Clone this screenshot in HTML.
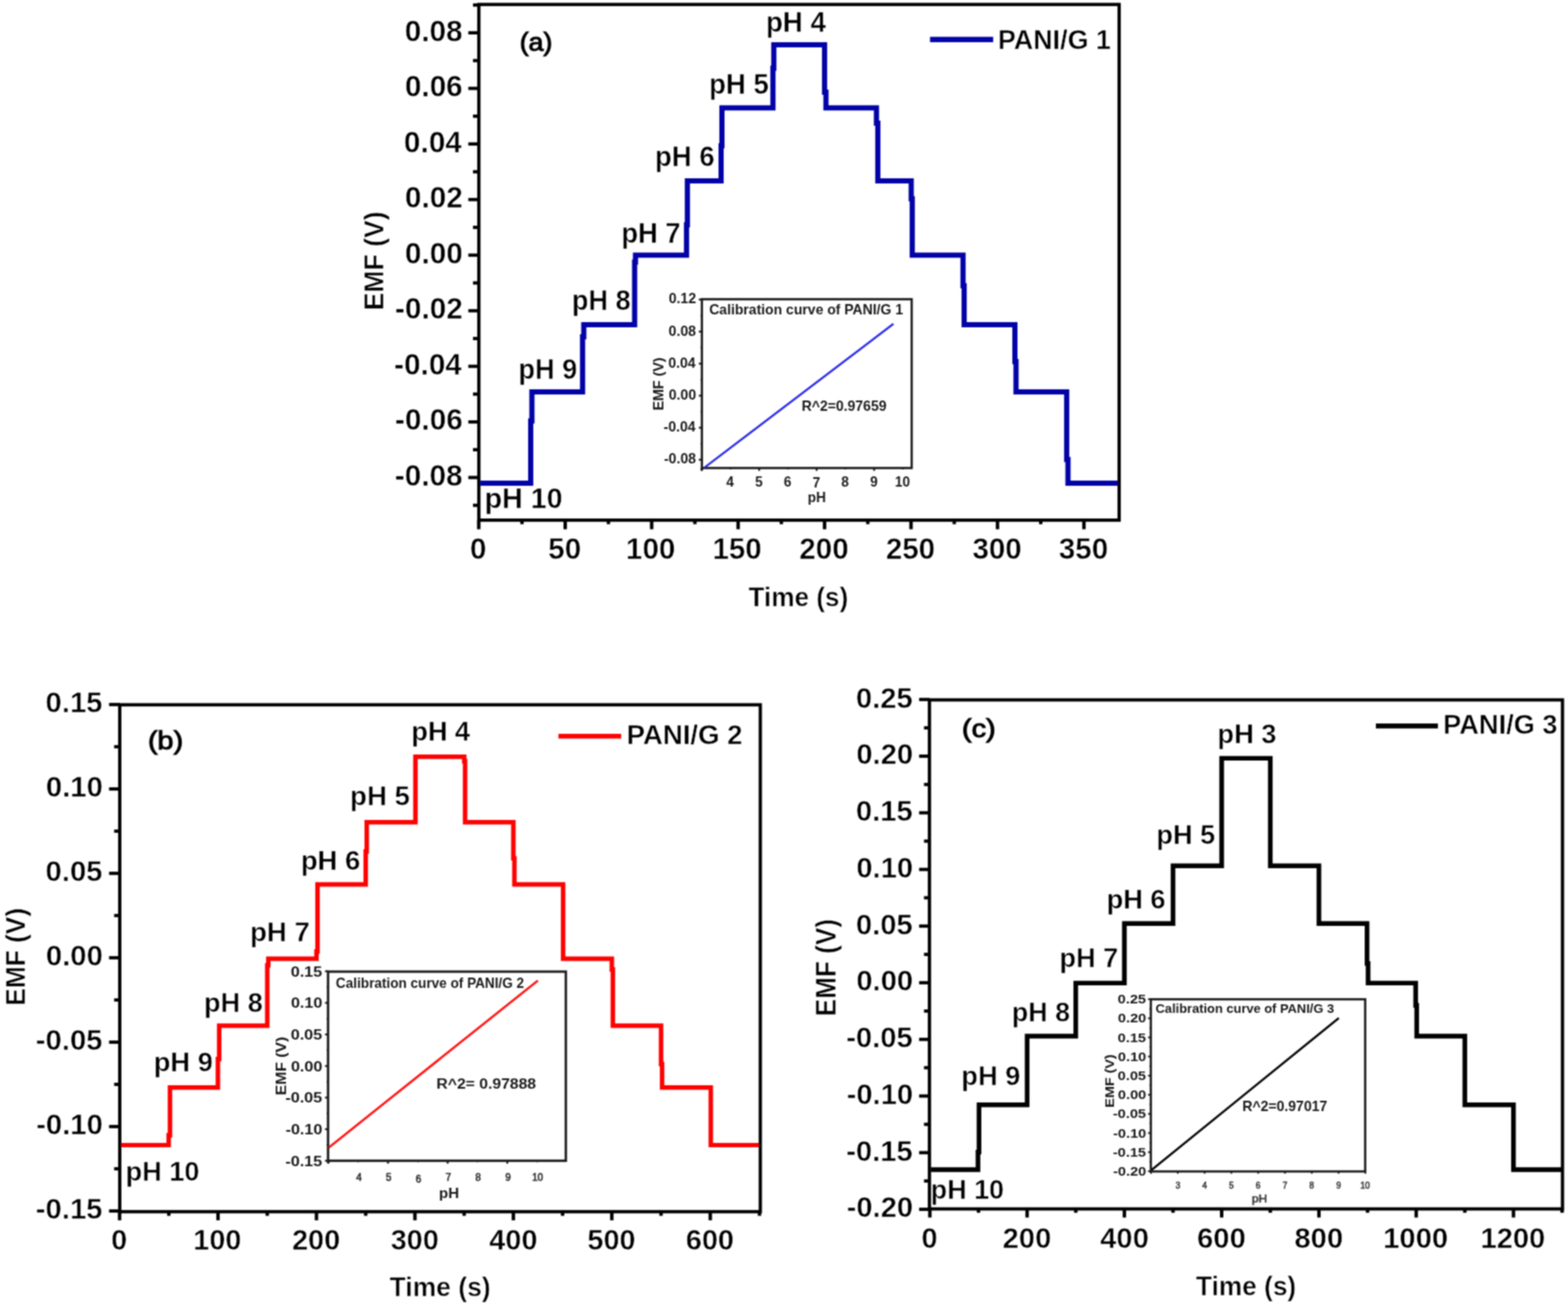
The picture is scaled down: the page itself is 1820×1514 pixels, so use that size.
<!DOCTYPE html>
<html><head><meta charset="utf-8"><title>EMF vs Time - PANI/G electrodes</title>
<style>
html,body{margin:0;padding:0;background:#fff;}
svg{display:block;}
text{font-family:"Liberation Sans",Arial,sans-serif;font-weight:bold;}
</style></head><body>
<svg width="1820" height="1514" viewBox="0 0 1820 1514">
<defs><filter id="soft" x="0" y="0" width="1820" height="1514" filterUnits="userSpaceOnUse" color-interpolation-filters="sRGB"><feConvolveMatrix order="3" kernelMatrix="1 2 1 2 4 2 1 2 1" edgeMode="duplicate"/></filter></defs>
<g filter="url(#soft)">
<rect width="1820" height="1514" fill="#fff"/>
<line x1="549.00" y1="586.68" x2="555.80" y2="586.68" stroke="#000" stroke-width="3.8" stroke-linecap="butt"/>
<line x1="543.60" y1="554.41" x2="555.80" y2="554.41" stroke="#000" stroke-width="3.8" stroke-linecap="butt"/>
<line x1="549.00" y1="522.14" x2="555.80" y2="522.14" stroke="#000" stroke-width="3.8" stroke-linecap="butt"/>
<line x1="543.60" y1="489.87" x2="555.80" y2="489.87" stroke="#000" stroke-width="3.8" stroke-linecap="butt"/>
<line x1="549.00" y1="457.60" x2="555.80" y2="457.60" stroke="#000" stroke-width="3.8" stroke-linecap="butt"/>
<line x1="543.60" y1="425.33" x2="555.80" y2="425.33" stroke="#000" stroke-width="3.8" stroke-linecap="butt"/>
<line x1="549.00" y1="393.06" x2="555.80" y2="393.06" stroke="#000" stroke-width="3.8" stroke-linecap="butt"/>
<line x1="543.60" y1="360.79" x2="555.80" y2="360.79" stroke="#000" stroke-width="3.8" stroke-linecap="butt"/>
<line x1="549.00" y1="328.52" x2="555.80" y2="328.52" stroke="#000" stroke-width="3.8" stroke-linecap="butt"/>
<line x1="543.60" y1="296.25" x2="555.80" y2="296.25" stroke="#000" stroke-width="3.8" stroke-linecap="butt"/>
<line x1="549.00" y1="263.98" x2="555.80" y2="263.98" stroke="#000" stroke-width="3.8" stroke-linecap="butt"/>
<line x1="543.60" y1="231.71" x2="555.80" y2="231.71" stroke="#000" stroke-width="3.8" stroke-linecap="butt"/>
<line x1="549.00" y1="199.44" x2="555.80" y2="199.44" stroke="#000" stroke-width="3.8" stroke-linecap="butt"/>
<line x1="543.60" y1="167.17" x2="555.80" y2="167.17" stroke="#000" stroke-width="3.8" stroke-linecap="butt"/>
<line x1="549.00" y1="134.90" x2="555.80" y2="134.90" stroke="#000" stroke-width="3.8" stroke-linecap="butt"/>
<line x1="543.60" y1="102.63" x2="555.80" y2="102.63" stroke="#000" stroke-width="3.8" stroke-linecap="butt"/>
<line x1="549.00" y1="70.36" x2="555.80" y2="70.36" stroke="#000" stroke-width="3.8" stroke-linecap="butt"/>
<line x1="543.60" y1="38.09" x2="555.80" y2="38.09" stroke="#000" stroke-width="3.8" stroke-linecap="butt"/>
<line x1="549.00" y1="5.82" x2="555.80" y2="5.82" stroke="#000" stroke-width="3.8" stroke-linecap="butt"/>
<line x1="555.70" y1="603.90" x2="555.70" y2="614.50" stroke="#000" stroke-width="4.0" stroke-linecap="butt"/>
<line x1="605.88" y1="603.90" x2="605.88" y2="608.60" stroke="#000" stroke-width="4.0" stroke-linecap="butt"/>
<line x1="656.05" y1="603.90" x2="656.05" y2="614.50" stroke="#000" stroke-width="4.0" stroke-linecap="butt"/>
<line x1="706.23" y1="603.90" x2="706.23" y2="608.60" stroke="#000" stroke-width="4.0" stroke-linecap="butt"/>
<line x1="756.40" y1="603.90" x2="756.40" y2="614.50" stroke="#000" stroke-width="4.0" stroke-linecap="butt"/>
<line x1="806.58" y1="603.90" x2="806.58" y2="608.60" stroke="#000" stroke-width="4.0" stroke-linecap="butt"/>
<line x1="856.75" y1="603.90" x2="856.75" y2="614.50" stroke="#000" stroke-width="4.0" stroke-linecap="butt"/>
<line x1="906.93" y1="603.90" x2="906.93" y2="608.60" stroke="#000" stroke-width="4.0" stroke-linecap="butt"/>
<line x1="957.10" y1="603.90" x2="957.10" y2="614.50" stroke="#000" stroke-width="4.0" stroke-linecap="butt"/>
<line x1="1007.28" y1="603.90" x2="1007.28" y2="608.60" stroke="#000" stroke-width="4.0" stroke-linecap="butt"/>
<line x1="1057.45" y1="603.90" x2="1057.45" y2="614.50" stroke="#000" stroke-width="4.0" stroke-linecap="butt"/>
<line x1="1107.62" y1="603.90" x2="1107.62" y2="608.60" stroke="#000" stroke-width="4.0" stroke-linecap="butt"/>
<line x1="1157.80" y1="603.90" x2="1157.80" y2="614.50" stroke="#000" stroke-width="4.0" stroke-linecap="butt"/>
<line x1="1207.98" y1="603.90" x2="1207.98" y2="608.60" stroke="#000" stroke-width="4.0" stroke-linecap="butt"/>
<line x1="1258.15" y1="603.90" x2="1258.15" y2="614.50" stroke="#000" stroke-width="4.0" stroke-linecap="butt"/>
<rect x="555.80" y="5.20" width="743.20" height="598.70" fill="none" stroke="#000" stroke-width="3.8"/>
<text transform="translate(458.26,564.01) scale(1.0000,1)" font-size="34.50" fill="#000" stroke="#fff" stroke-width="0.5">-0.08</text>
<text transform="translate(458.43,499.47) scale(1.0000,1)" font-size="34.50" fill="#000" stroke="#fff" stroke-width="0.5">-0.06</text>
<text transform="translate(457.40,434.93) scale(1.0000,1)" font-size="34.50" fill="#000" stroke="#fff" stroke-width="0.5">-0.04</text>
<text transform="translate(458.61,370.39) scale(1.0000,1)" font-size="34.50" fill="#000" stroke="#fff" stroke-width="0.5">-0.02</text>
<text transform="translate(470.08,305.85) scale(1.0000,1)" font-size="34.50" fill="#000" stroke="#fff" stroke-width="0.5">0.00</text>
<text transform="translate(470.08,241.31) scale(1.0000,1)" font-size="34.50" fill="#000" stroke="#fff" stroke-width="0.5">0.02</text>
<text transform="translate(468.87,176.77) scale(1.0000,1)" font-size="34.50" fill="#000" stroke="#fff" stroke-width="0.5">0.04</text>
<text transform="translate(469.90,112.23) scale(1.0000,1)" font-size="34.50" fill="#000" stroke="#fff" stroke-width="0.5">0.06</text>
<text transform="translate(469.73,47.69) scale(1.0000,1)" font-size="34.50" fill="#000" stroke="#fff" stroke-width="0.5">0.08</text>
<text transform="translate(545.38,648.50) scale(1.0000,1)" font-size="34.30" fill="#000" stroke="#fff" stroke-width="0.5">0</text>
<text transform="translate(636.34,648.50) scale(1.0000,1)" font-size="34.30" fill="#000" stroke="#fff" stroke-width="0.5">50</text>
<text transform="translate(726.62,648.50) scale(1.0000,1)" font-size="34.30" fill="#000" stroke="#fff" stroke-width="0.5">100</text>
<text transform="translate(826.97,648.50) scale(1.0000,1)" font-size="34.30" fill="#000" stroke="#fff" stroke-width="0.5">150</text>
<text transform="translate(927.79,648.50) scale(1.0000,1)" font-size="34.30" fill="#000" stroke="#fff" stroke-width="0.5">200</text>
<text transform="translate(1028.14,648.50) scale(1.0000,1)" font-size="34.30" fill="#000" stroke="#fff" stroke-width="0.5">250</text>
<text transform="translate(1128.70,648.50) scale(1.0000,1)" font-size="34.30" fill="#000" stroke="#fff" stroke-width="0.5">300</text>
<text transform="translate(1229.05,648.50) scale(1.0000,1)" font-size="34.30" fill="#000" stroke="#fff" stroke-width="0.5">350</text>
<path d="M557.30,561.00 L616.01,561.00 L616.01,488.85 L617.41,488.85 L617.41,454.90 L676.22,454.90 L676.22,391.02 L677.62,391.02 L677.62,377.00 L736.63,377.00 L736.63,304.37 L737.63,304.37 L737.63,296.30 L796.84,296.30 L796.84,260.88 L797.84,260.88 L797.84,209.90 L836.98,209.90 L836.98,169.29 L837.98,169.29 L837.98,125.30 L897.19,125.30 L897.19,79.18 L898.19,79.18 L898.19,52.10 L957.10,52.10 L957.10,107.00 L958.70,107.00 L958.70,125.30 L1017.31,125.30 L1017.31,143.07 L1018.91,143.07 L1018.91,209.90 L1057.65,209.90 L1057.65,230.64 L1058.85,230.64 L1058.85,296.30 L1117.81,296.30 L1117.81,331.81 L1119.11,331.81 L1119.11,377.00 L1178.02,377.00 L1178.02,419.84 L1179.32,419.84 L1179.32,454.90 L1238.13,454.90 L1238.13,533.41 L1239.63,533.41 L1239.63,561.00 L1297.50,561.00" fill="none" stroke="#0202A8" stroke-width="6" stroke-linejoin="miter" stroke-linecap="butt"/>
<text transform="translate(888.90,37.40) scale(0.9928,1)" font-size="32.50" fill="#000" stroke="#fff" stroke-width="0.5">pH 4</text>
<text transform="translate(822.91,108.50) scale(0.9873,1)" font-size="32.50" fill="#000" stroke="#fff" stroke-width="0.5">pH 5</text>
<text transform="translate(760.33,193.00) scale(0.9819,1)" font-size="32.50" fill="#000" stroke="#fff" stroke-width="0.5">pH 6</text>
<text transform="translate(721.14,281.60) scale(0.9765,1)" font-size="32.50" fill="#000" stroke="#fff" stroke-width="0.5">pH 7</text>
<text transform="translate(663.75,359.80) scale(0.9692,1)" font-size="32.50" fill="#000" stroke="#fff" stroke-width="0.5">pH 8</text>
<text transform="translate(601.85,440.20) scale(0.9700,1)" font-size="32.50" fill="#000" stroke="#fff" stroke-width="0.5">pH 9</text>
<text transform="translate(562.44,589.90) scale(0.9922,1)" font-size="33.50" fill="#000" stroke="#fff" stroke-width="0.5">pH 10</text>
<text transform="translate(603.21,59.40) scale(1.0714,1)" font-size="29.00" fill="#000" style="font-weight:normal" stroke="#000" stroke-width="1.1">(a)</text>
<line x1="1079.50" y1="45.90" x2="1152.80" y2="45.90" stroke="#0202A8" stroke-width="6.2" stroke-linecap="butt"/>
<text transform="translate(1158.29,56.60) scale(0.9753,1)" font-size="32.00" fill="#000" stroke="#fff" stroke-width="0.5">PANI/G 1</text>
<text transform="translate(868.82,704.20) scale(0.9567,1)" font-size="31.70" fill="#000" stroke="#fff" stroke-width="0.5">Time (s)</text>
<text transform="translate(445.10,360.18) rotate(-90) scale(0.9782,1)" font-size="31.50" fill="#000" stroke="#fff" stroke-width="0.5">EMF (V)</text>
<line x1="811.20" y1="533.80" x2="814.70" y2="533.80" stroke="#1a1a1a" stroke-width="2.2" stroke-linecap="butt"/>
<line x1="813.20" y1="515.20" x2="814.70" y2="515.20" stroke="#1a1a1a" stroke-width="1.5" stroke-linecap="butt"/>
<line x1="811.20" y1="496.60" x2="814.70" y2="496.60" stroke="#1a1a1a" stroke-width="2.2" stroke-linecap="butt"/>
<line x1="813.20" y1="478.00" x2="814.70" y2="478.00" stroke="#1a1a1a" stroke-width="1.5" stroke-linecap="butt"/>
<line x1="811.20" y1="459.40" x2="814.70" y2="459.40" stroke="#1a1a1a" stroke-width="2.2" stroke-linecap="butt"/>
<line x1="813.20" y1="440.80" x2="814.70" y2="440.80" stroke="#1a1a1a" stroke-width="1.5" stroke-linecap="butt"/>
<line x1="811.20" y1="422.20" x2="814.70" y2="422.20" stroke="#1a1a1a" stroke-width="2.2" stroke-linecap="butt"/>
<line x1="813.20" y1="403.60" x2="814.70" y2="403.60" stroke="#1a1a1a" stroke-width="1.5" stroke-linecap="butt"/>
<line x1="811.20" y1="385.00" x2="814.70" y2="385.00" stroke="#1a1a1a" stroke-width="2.2" stroke-linecap="butt"/>
<line x1="813.20" y1="366.40" x2="814.70" y2="366.40" stroke="#1a1a1a" stroke-width="1.5" stroke-linecap="butt"/>
<line x1="811.20" y1="347.80" x2="814.70" y2="347.80" stroke="#1a1a1a" stroke-width="2.2" stroke-linecap="butt"/>
<line x1="814.43" y1="543.40" x2="814.43" y2="546.60" stroke="#1a1a1a" stroke-width="2.2" stroke-linecap="butt"/>
<line x1="847.80" y1="543.40" x2="847.80" y2="545.00" stroke="#1a1a1a" stroke-width="2.0" stroke-linecap="butt"/>
<line x1="881.17" y1="543.40" x2="881.17" y2="546.60" stroke="#1a1a1a" stroke-width="2.2" stroke-linecap="butt"/>
<line x1="914.54" y1="543.40" x2="914.54" y2="545.00" stroke="#1a1a1a" stroke-width="2.0" stroke-linecap="butt"/>
<line x1="947.91" y1="543.40" x2="947.91" y2="546.60" stroke="#1a1a1a" stroke-width="2.2" stroke-linecap="butt"/>
<line x1="981.28" y1="543.40" x2="981.28" y2="545.00" stroke="#1a1a1a" stroke-width="2.0" stroke-linecap="butt"/>
<line x1="1014.65" y1="543.40" x2="1014.65" y2="546.60" stroke="#1a1a1a" stroke-width="2.2" stroke-linecap="butt"/>
<line x1="1048.02" y1="543.40" x2="1048.02" y2="545.00" stroke="#1a1a1a" stroke-width="2.0" stroke-linecap="butt"/>
<line x1="814.70" y1="543.40" x2="814.70" y2="546.40" stroke="#1a1a1a" stroke-width="2.6" stroke-linecap="butt"/>
<rect x="814.70" y="347.40" width="243.50" height="196.00" fill="none" stroke="#1a1a1a" stroke-width="2.6"/>
<text transform="translate(776.25,352.40) scale(1.0000,1)" font-size="16.30" fill="#1a1a1a">0.12</text>
<text transform="translate(776.09,389.60) scale(1.0000,1)" font-size="16.30" fill="#1a1a1a">0.08</text>
<text transform="translate(775.68,426.80) scale(1.0000,1)" font-size="16.30" fill="#1a1a1a">0.04</text>
<text transform="translate(776.25,464.00) scale(1.0000,1)" font-size="16.30" fill="#1a1a1a">0.00</text>
<text transform="translate(770.26,501.20) scale(1.0000,1)" font-size="16.30" fill="#1a1a1a">-0.04</text>
<text transform="translate(770.67,538.40) scale(1.0000,1)" font-size="16.30" fill="#1a1a1a">-0.08</text>
<text transform="translate(843.04,564.80) scale(1.0000,1)" font-size="15.80" fill="#1a1a1a">4</text>
<text transform="translate(876.45,564.80) scale(1.0000,1)" font-size="15.80" fill="#1a1a1a">5</text>
<text transform="translate(909.84,564.80) scale(1.0000,1)" font-size="15.80" fill="#1a1a1a">6</text>
<text transform="translate(943.23,566.00) scale(1.0000,1)" font-size="15.80" fill="#1a1a1a">7</text>
<text transform="translate(976.58,564.80) scale(1.0000,1)" font-size="15.80" fill="#1a1a1a">8</text>
<text transform="translate(1009.97,564.80) scale(1.0000,1)" font-size="15.80" fill="#1a1a1a">9</text>
<text transform="translate(1038.77,564.80) scale(1.0000,1)" font-size="15.80" fill="#1a1a1a">10</text>
<text transform="translate(937.47,582.70) scale(1.0021,1)" font-size="15.80" fill="#1a1a1a">pH</text>
<text transform="translate(770.00,476.62) rotate(-90) scale(1.0167,1)" font-size="16.30" fill="#1a1a1a">EMF (V)</text>
<text transform="translate(823.15,365.40) scale(0.9963,1)" font-size="16.30" fill="#1a1a1a">Calibration curve of PANI/G 1</text>
<text transform="translate(930.40,476.80) scale(0.9868,1)" font-size="16.50" fill="#1a1a1a">R^2=0.97659</text>
<line x1="817.70" y1="542.90" x2="1037.00" y2="376.00" stroke="#2626E6" stroke-width="2.4" stroke-linecap="butt"/>
<line x1="126.60" y1="1406.00" x2="139.00" y2="1406.00" stroke="#000" stroke-width="3.8" stroke-linecap="butt"/>
<line x1="132.50" y1="1357.00" x2="139.00" y2="1357.00" stroke="#000" stroke-width="3.8" stroke-linecap="butt"/>
<line x1="126.60" y1="1308.00" x2="139.00" y2="1308.00" stroke="#000" stroke-width="3.8" stroke-linecap="butt"/>
<line x1="132.50" y1="1259.00" x2="139.00" y2="1259.00" stroke="#000" stroke-width="3.8" stroke-linecap="butt"/>
<line x1="126.60" y1="1210.00" x2="139.00" y2="1210.00" stroke="#000" stroke-width="3.8" stroke-linecap="butt"/>
<line x1="132.50" y1="1161.00" x2="139.00" y2="1161.00" stroke="#000" stroke-width="3.8" stroke-linecap="butt"/>
<line x1="126.60" y1="1112.00" x2="139.00" y2="1112.00" stroke="#000" stroke-width="3.8" stroke-linecap="butt"/>
<line x1="132.50" y1="1063.00" x2="139.00" y2="1063.00" stroke="#000" stroke-width="3.8" stroke-linecap="butt"/>
<line x1="126.60" y1="1014.00" x2="139.00" y2="1014.00" stroke="#000" stroke-width="3.8" stroke-linecap="butt"/>
<line x1="132.50" y1="965.00" x2="139.00" y2="965.00" stroke="#000" stroke-width="3.8" stroke-linecap="butt"/>
<line x1="126.60" y1="916.00" x2="139.00" y2="916.00" stroke="#000" stroke-width="3.8" stroke-linecap="butt"/>
<line x1="132.50" y1="867.00" x2="139.00" y2="867.00" stroke="#000" stroke-width="3.8" stroke-linecap="butt"/>
<line x1="126.60" y1="818.00" x2="139.00" y2="818.00" stroke="#000" stroke-width="3.8" stroke-linecap="butt"/>
<line x1="138.80" y1="1406.80" x2="138.80" y2="1416.80" stroke="#000" stroke-width="4.0" stroke-linecap="butt"/>
<line x1="195.94" y1="1406.80" x2="195.94" y2="1411.60" stroke="#000" stroke-width="4.0" stroke-linecap="butt"/>
<line x1="253.07" y1="1406.80" x2="253.07" y2="1416.80" stroke="#000" stroke-width="4.0" stroke-linecap="butt"/>
<line x1="310.21" y1="1406.80" x2="310.21" y2="1411.60" stroke="#000" stroke-width="4.0" stroke-linecap="butt"/>
<line x1="367.34" y1="1406.80" x2="367.34" y2="1416.80" stroke="#000" stroke-width="4.0" stroke-linecap="butt"/>
<line x1="424.48" y1="1406.80" x2="424.48" y2="1411.60" stroke="#000" stroke-width="4.0" stroke-linecap="butt"/>
<line x1="481.61" y1="1406.80" x2="481.61" y2="1416.80" stroke="#000" stroke-width="4.0" stroke-linecap="butt"/>
<line x1="538.75" y1="1406.80" x2="538.75" y2="1411.60" stroke="#000" stroke-width="4.0" stroke-linecap="butt"/>
<line x1="595.88" y1="1406.80" x2="595.88" y2="1416.80" stroke="#000" stroke-width="4.0" stroke-linecap="butt"/>
<line x1="653.02" y1="1406.80" x2="653.02" y2="1411.60" stroke="#000" stroke-width="4.0" stroke-linecap="butt"/>
<line x1="710.15" y1="1406.80" x2="710.15" y2="1416.80" stroke="#000" stroke-width="4.0" stroke-linecap="butt"/>
<line x1="767.29" y1="1406.80" x2="767.29" y2="1411.60" stroke="#000" stroke-width="4.0" stroke-linecap="butt"/>
<line x1="824.42" y1="1406.80" x2="824.42" y2="1416.80" stroke="#000" stroke-width="4.0" stroke-linecap="butt"/>
<line x1="881.56" y1="1406.80" x2="881.56" y2="1411.60" stroke="#000" stroke-width="4.0" stroke-linecap="butt"/>
<rect x="139.00" y="818.30" width="743.50" height="588.50" fill="none" stroke="#000" stroke-width="3.8"/>
<text transform="translate(41.50,1415.30) scale(1.0000,1)" font-size="34.00" fill="#000" stroke="#fff" stroke-width="0.5">-0.15</text>
<text transform="translate(41.93,1317.30) scale(1.0000,1)" font-size="34.00" fill="#000" stroke="#fff" stroke-width="0.5">-0.10</text>
<text transform="translate(41.50,1219.30) scale(1.0000,1)" font-size="34.00" fill="#000" stroke="#fff" stroke-width="0.5">-0.05</text>
<text transform="translate(53.23,1121.30) scale(1.0000,1)" font-size="34.00" fill="#000" stroke="#fff" stroke-width="0.5">0.00</text>
<text transform="translate(52.80,1023.30) scale(1.0000,1)" font-size="34.00" fill="#000" stroke="#fff" stroke-width="0.5">0.05</text>
<text transform="translate(53.23,925.30) scale(1.0000,1)" font-size="34.00" fill="#000" stroke="#fff" stroke-width="0.5">0.10</text>
<text transform="translate(52.80,827.30) scale(1.0000,1)" font-size="34.00" fill="#000" stroke="#fff" stroke-width="0.5">0.15</text>
<text transform="translate(129.00,1451.00) scale(1.0000,1)" font-size="33.50" fill="#000" stroke="#fff" stroke-width="0.5">0</text>
<text transform="translate(224.26,1451.00) scale(1.0000,1)" font-size="33.50" fill="#000" stroke="#fff" stroke-width="0.5">100</text>
<text transform="translate(338.99,1451.00) scale(1.0000,1)" font-size="33.50" fill="#000" stroke="#fff" stroke-width="0.5">200</text>
<text transform="translate(453.47,1451.00) scale(1.0000,1)" font-size="33.50" fill="#000" stroke="#fff" stroke-width="0.5">300</text>
<text transform="translate(567.87,1451.00) scale(1.0000,1)" font-size="33.50" fill="#000" stroke="#fff" stroke-width="0.5">400</text>
<text transform="translate(681.85,1451.00) scale(1.0000,1)" font-size="33.50" fill="#000" stroke="#fff" stroke-width="0.5">500</text>
<text transform="translate(796.03,1451.00) scale(1.0000,1)" font-size="33.50" fill="#000" stroke="#fff" stroke-width="0.5">600</text>
<path d="M140.50,1329.50 L195.78,1329.50 L195.78,1318.13 L197.28,1318.13 L197.28,1262.60 L252.92,1262.60 L252.92,1229.62 L254.42,1229.62 L254.42,1190.90 L310.21,1190.90 L310.21,1120.97 L311.41,1120.97 L311.41,1113.20 L367.34,1113.20 L367.34,1104.56 L368.54,1104.56 L368.54,1026.80 L424.48,1026.80 L424.48,988.59 L425.68,988.59 L425.68,954.70 L482.21,954.70 L482.21,878.60 L538.85,878.60 L538.85,883.93 L539.85,883.93 L539.85,954.70 L595.88,954.70 L595.88,996.52 L597.08,996.52 L597.08,1026.80 L653.62,1026.80 L653.62,1113.20 L710.15,1113.20 L710.15,1125.63 L711.35,1125.63 L711.35,1190.90 L767.29,1190.90 L767.29,1235.35 L768.49,1235.35 L768.49,1262.60 L825.02,1262.60 L825.02,1329.50 L881.00,1329.50" fill="none" stroke="#FF0000" stroke-width="5.2" stroke-linejoin="miter" stroke-linecap="butt"/>
<text transform="translate(477.56,859.90) scale(0.9815,1)" font-size="32.00" fill="#000" stroke="#fff" stroke-width="0.5">pH 4</text>
<text transform="translate(406.32,935.40) scale(1.0012,1)" font-size="32.00" fill="#000" stroke="#fff" stroke-width="0.5">pH 5</text>
<text transform="translate(349.13,1010.30) scale(0.9973,1)" font-size="32.00" fill="#000" stroke="#fff" stroke-width="0.5">pH 6</text>
<text transform="translate(290.22,1093.00) scale(1.0009,1)" font-size="32.00" fill="#000" stroke="#fff" stroke-width="0.5">pH 7</text>
<text transform="translate(236.75,1174.70) scale(0.9873,1)" font-size="32.00" fill="#000" stroke="#fff" stroke-width="0.5">pH 8</text>
<text transform="translate(178.44,1244.00) scale(0.9897,1)" font-size="32.00" fill="#000" stroke="#fff" stroke-width="0.5">pH 9</text>
<text transform="translate(145.85,1370.80) scale(0.9994,1)" font-size="31.50" fill="#000" stroke="#fff" stroke-width="0.5">pH 10</text>
<text transform="translate(171.66,869.80) scale(1.1184,1)" font-size="29.90" fill="#000" style="font-weight:normal" stroke="#000" stroke-width="1.1">(b)</text>
<line x1="648.20" y1="854.70" x2="721.00" y2="854.70" stroke="#FF0000" stroke-width="5.5" stroke-linecap="butt"/>
<text transform="translate(727.14,863.70) scale(1.0335,1)" font-size="31.00" fill="#000" stroke="#fff" stroke-width="0.5">PANI/G 2</text>
<text transform="translate(452.32,1505.30) scale(0.9715,1)" font-size="31.60" fill="#000" stroke="#fff" stroke-width="0.5">Time (s)</text>
<text transform="translate(28.50,1167.66) rotate(-90) scale(0.9685,1)" font-size="31.50" fill="#000" stroke="#fff" stroke-width="0.5">EMF (V)</text>
<line x1="377.30" y1="1347.70" x2="380.80" y2="1347.70" stroke="#1a1a1a" stroke-width="2.2" stroke-linecap="butt"/>
<line x1="379.30" y1="1329.36" x2="380.80" y2="1329.36" stroke="#1a1a1a" stroke-width="1.5" stroke-linecap="butt"/>
<line x1="377.30" y1="1311.03" x2="380.80" y2="1311.03" stroke="#1a1a1a" stroke-width="2.2" stroke-linecap="butt"/>
<line x1="379.30" y1="1292.70" x2="380.80" y2="1292.70" stroke="#1a1a1a" stroke-width="1.5" stroke-linecap="butt"/>
<line x1="377.30" y1="1274.37" x2="380.80" y2="1274.37" stroke="#1a1a1a" stroke-width="2.2" stroke-linecap="butt"/>
<line x1="379.30" y1="1256.03" x2="380.80" y2="1256.03" stroke="#1a1a1a" stroke-width="1.5" stroke-linecap="butt"/>
<line x1="377.30" y1="1237.70" x2="380.80" y2="1237.70" stroke="#1a1a1a" stroke-width="2.2" stroke-linecap="butt"/>
<line x1="379.30" y1="1219.37" x2="380.80" y2="1219.37" stroke="#1a1a1a" stroke-width="1.5" stroke-linecap="butt"/>
<line x1="377.30" y1="1201.04" x2="380.80" y2="1201.04" stroke="#1a1a1a" stroke-width="2.2" stroke-linecap="butt"/>
<line x1="379.30" y1="1182.70" x2="380.80" y2="1182.70" stroke="#1a1a1a" stroke-width="1.5" stroke-linecap="butt"/>
<line x1="377.30" y1="1164.37" x2="380.80" y2="1164.37" stroke="#1a1a1a" stroke-width="2.2" stroke-linecap="butt"/>
<line x1="379.30" y1="1146.04" x2="380.80" y2="1146.04" stroke="#1a1a1a" stroke-width="1.5" stroke-linecap="butt"/>
<line x1="377.30" y1="1127.70" x2="380.80" y2="1127.70" stroke="#1a1a1a" stroke-width="2.2" stroke-linecap="butt"/>
<line x1="381.20" y1="1347.70" x2="381.20" y2="1351.10" stroke="#1a1a1a" stroke-width="2.2" stroke-linecap="butt"/>
<line x1="415.80" y1="1347.70" x2="415.80" y2="1349.30" stroke="#1a1a1a" stroke-width="2.0" stroke-linecap="butt"/>
<line x1="450.40" y1="1347.70" x2="450.40" y2="1351.10" stroke="#1a1a1a" stroke-width="2.2" stroke-linecap="butt"/>
<line x1="485.00" y1="1347.70" x2="485.00" y2="1349.30" stroke="#1a1a1a" stroke-width="2.0" stroke-linecap="butt"/>
<line x1="519.60" y1="1347.70" x2="519.60" y2="1351.10" stroke="#1a1a1a" stroke-width="2.2" stroke-linecap="butt"/>
<line x1="554.20" y1="1347.70" x2="554.20" y2="1349.30" stroke="#1a1a1a" stroke-width="2.0" stroke-linecap="butt"/>
<line x1="588.80" y1="1347.70" x2="588.80" y2="1351.10" stroke="#1a1a1a" stroke-width="2.2" stroke-linecap="butt"/>
<line x1="623.40" y1="1347.70" x2="623.40" y2="1349.30" stroke="#1a1a1a" stroke-width="2.0" stroke-linecap="butt"/>
<line x1="380.80" y1="1347.70" x2="380.80" y2="1350.70" stroke="#1a1a1a" stroke-width="2.6" stroke-linecap="butt"/>
<rect x="380.80" y="1128.10" width="276.00" height="219.60" fill="none" stroke="#1a1a1a" stroke-width="2.8"/>
<text transform="translate(331.16,1353.50) scale(1.1200,1)" font-size="16.80" fill="#1a1a1a">-0.15</text>
<text transform="translate(331.40,1316.83) scale(1.1200,1)" font-size="16.80" fill="#1a1a1a">-0.10</text>
<text transform="translate(331.16,1280.16) scale(1.1200,1)" font-size="16.80" fill="#1a1a1a">-0.05</text>
<text transform="translate(337.66,1243.50) scale(1.1200,1)" font-size="16.80" fill="#1a1a1a">0.00</text>
<text transform="translate(337.42,1206.84) scale(1.1200,1)" font-size="16.80" fill="#1a1a1a">0.05</text>
<text transform="translate(337.66,1170.17) scale(1.1200,1)" font-size="16.80" fill="#1a1a1a">0.10</text>
<text transform="translate(337.42,1133.50) scale(1.1200,1)" font-size="16.80" fill="#1a1a1a">0.15</text>
<text transform="translate(413.47,1371.20) scale(0.9500,1)" font-size="12.00" fill="#333" style="font-weight:normal" stroke="#333" stroke-width="0.7">4</text>
<text transform="translate(448.04,1371.20) scale(0.9500,1)" font-size="12.00" fill="#333" style="font-weight:normal" stroke="#333" stroke-width="0.7">5</text>
<text transform="translate(482.59,1372.50) scale(0.9500,1)" font-size="12.00" fill="#333" style="font-weight:normal" stroke="#333" stroke-width="0.7">6</text>
<text transform="translate(517.22,1371.20) scale(0.9500,1)" font-size="12.00" fill="#333" style="font-weight:normal" stroke="#333" stroke-width="0.7">7</text>
<text transform="translate(551.84,1371.20) scale(0.9500,1)" font-size="12.00" fill="#333" style="font-weight:normal" stroke="#333" stroke-width="0.7">8</text>
<text transform="translate(586.42,1371.20) scale(0.9500,1)" font-size="12.00" fill="#333" style="font-weight:normal" stroke="#333" stroke-width="0.7">9</text>
<text transform="translate(617.66,1371.20) scale(0.9500,1)" font-size="12.00" fill="#333" style="font-weight:normal" stroke="#333" stroke-width="0.7">10</text>
<text transform="translate(509.46,1390.50) scale(1.0606,1)" font-size="16.50" fill="#1a1a1a">pH</text>
<text transform="translate(331.80,1271.84) rotate(-90) scale(1.1120,1)" font-size="16.50" fill="#1a1a1a">EMF (V)</text>
<text transform="translate(389.87,1146.80) scale(0.9981,1)" font-size="15.80" fill="#1a1a1a">Calibration curve of PANI/G 2</text>
<text transform="translate(506.57,1263.60) scale(1.0747,1)" font-size="17.00" fill="#1a1a1a">R^2= 0.97888</text>
<line x1="381.50" y1="1332.40" x2="624.30" y2="1138.50" stroke="#FF1010" stroke-width="2.6" stroke-linecap="butt"/>
<line x1="1066.80" y1="1404.06" x2="1078.80" y2="1404.06" stroke="#000" stroke-width="3.8" stroke-linecap="butt"/>
<line x1="1072.50" y1="1371.18" x2="1078.80" y2="1371.18" stroke="#000" stroke-width="3.8" stroke-linecap="butt"/>
<line x1="1066.80" y1="1338.30" x2="1078.80" y2="1338.30" stroke="#000" stroke-width="3.8" stroke-linecap="butt"/>
<line x1="1072.50" y1="1305.41" x2="1078.80" y2="1305.41" stroke="#000" stroke-width="3.8" stroke-linecap="butt"/>
<line x1="1066.80" y1="1272.53" x2="1078.80" y2="1272.53" stroke="#000" stroke-width="3.8" stroke-linecap="butt"/>
<line x1="1072.50" y1="1239.65" x2="1078.80" y2="1239.65" stroke="#000" stroke-width="3.8" stroke-linecap="butt"/>
<line x1="1066.80" y1="1206.77" x2="1078.80" y2="1206.77" stroke="#000" stroke-width="3.8" stroke-linecap="butt"/>
<line x1="1072.50" y1="1173.88" x2="1078.80" y2="1173.88" stroke="#000" stroke-width="3.8" stroke-linecap="butt"/>
<line x1="1066.80" y1="1141.00" x2="1078.80" y2="1141.00" stroke="#000" stroke-width="3.8" stroke-linecap="butt"/>
<line x1="1072.50" y1="1108.12" x2="1078.80" y2="1108.12" stroke="#000" stroke-width="3.8" stroke-linecap="butt"/>
<line x1="1066.80" y1="1075.23" x2="1078.80" y2="1075.23" stroke="#000" stroke-width="3.8" stroke-linecap="butt"/>
<line x1="1072.50" y1="1042.35" x2="1078.80" y2="1042.35" stroke="#000" stroke-width="3.8" stroke-linecap="butt"/>
<line x1="1066.80" y1="1009.47" x2="1078.80" y2="1009.47" stroke="#000" stroke-width="3.8" stroke-linecap="butt"/>
<line x1="1072.50" y1="976.59" x2="1078.80" y2="976.59" stroke="#000" stroke-width="3.8" stroke-linecap="butt"/>
<line x1="1066.80" y1="943.70" x2="1078.80" y2="943.70" stroke="#000" stroke-width="3.8" stroke-linecap="butt"/>
<line x1="1072.50" y1="910.82" x2="1078.80" y2="910.82" stroke="#000" stroke-width="3.8" stroke-linecap="butt"/>
<line x1="1066.80" y1="877.94" x2="1078.80" y2="877.94" stroke="#000" stroke-width="3.8" stroke-linecap="butt"/>
<line x1="1072.50" y1="845.06" x2="1078.80" y2="845.06" stroke="#000" stroke-width="3.8" stroke-linecap="butt"/>
<line x1="1066.80" y1="812.17" x2="1078.80" y2="812.17" stroke="#000" stroke-width="3.8" stroke-linecap="butt"/>
<line x1="1079.30" y1="1403.60" x2="1079.30" y2="1413.60" stroke="#000" stroke-width="4.0" stroke-linecap="butt"/>
<line x1="1135.75" y1="1403.60" x2="1135.75" y2="1408.10" stroke="#000" stroke-width="4.0" stroke-linecap="butt"/>
<line x1="1192.20" y1="1403.60" x2="1192.20" y2="1413.60" stroke="#000" stroke-width="4.0" stroke-linecap="butt"/>
<line x1="1248.65" y1="1403.60" x2="1248.65" y2="1408.10" stroke="#000" stroke-width="4.0" stroke-linecap="butt"/>
<line x1="1305.10" y1="1403.60" x2="1305.10" y2="1413.60" stroke="#000" stroke-width="4.0" stroke-linecap="butt"/>
<line x1="1361.55" y1="1403.60" x2="1361.55" y2="1408.10" stroke="#000" stroke-width="4.0" stroke-linecap="butt"/>
<line x1="1418.00" y1="1403.60" x2="1418.00" y2="1413.60" stroke="#000" stroke-width="4.0" stroke-linecap="butt"/>
<line x1="1474.45" y1="1403.60" x2="1474.45" y2="1408.10" stroke="#000" stroke-width="4.0" stroke-linecap="butt"/>
<line x1="1530.90" y1="1403.60" x2="1530.90" y2="1413.60" stroke="#000" stroke-width="4.0" stroke-linecap="butt"/>
<line x1="1587.35" y1="1403.60" x2="1587.35" y2="1408.10" stroke="#000" stroke-width="4.0" stroke-linecap="butt"/>
<line x1="1643.80" y1="1403.60" x2="1643.80" y2="1413.60" stroke="#000" stroke-width="4.0" stroke-linecap="butt"/>
<line x1="1700.25" y1="1403.60" x2="1700.25" y2="1408.10" stroke="#000" stroke-width="4.0" stroke-linecap="butt"/>
<line x1="1756.70" y1="1403.60" x2="1756.70" y2="1413.60" stroke="#000" stroke-width="4.0" stroke-linecap="butt"/>
<line x1="1813.15" y1="1403.60" x2="1813.15" y2="1408.10" stroke="#000" stroke-width="4.0" stroke-linecap="butt"/>
<rect x="1078.80" y="812.60" width="734.80" height="591.00" fill="none" stroke="#000" stroke-width="3.8"/>
<text transform="translate(982.77,1413.46) scale(1.0000,1)" font-size="33.80" fill="#000" stroke="#fff" stroke-width="0.5">-0.20</text>
<text transform="translate(982.35,1347.70) scale(1.0000,1)" font-size="33.80" fill="#000" stroke="#fff" stroke-width="0.5">-0.15</text>
<text transform="translate(982.77,1281.93) scale(1.0000,1)" font-size="33.80" fill="#000" stroke="#fff" stroke-width="0.5">-0.10</text>
<text transform="translate(982.35,1216.17) scale(1.0000,1)" font-size="33.80" fill="#000" stroke="#fff" stroke-width="0.5">-0.05</text>
<text transform="translate(994.01,1150.40) scale(1.0000,1)" font-size="33.80" fill="#000" stroke="#fff" stroke-width="0.5">0.00</text>
<text transform="translate(993.59,1084.63) scale(1.0000,1)" font-size="33.80" fill="#000" stroke="#fff" stroke-width="0.5">0.05</text>
<text transform="translate(994.01,1018.87) scale(1.0000,1)" font-size="33.80" fill="#000" stroke="#fff" stroke-width="0.5">0.10</text>
<text transform="translate(993.59,953.10) scale(1.0000,1)" font-size="33.80" fill="#000" stroke="#fff" stroke-width="0.5">0.15</text>
<text transform="translate(994.01,887.34) scale(1.0000,1)" font-size="33.80" fill="#000" stroke="#fff" stroke-width="0.5">0.20</text>
<text transform="translate(993.59,821.57) scale(1.0000,1)" font-size="33.80" fill="#000" stroke="#fff" stroke-width="0.5">0.25</text>
<text transform="translate(1069.62,1449.40) scale(1.0000,1)" font-size="33.80" fill="#000" stroke="#fff" stroke-width="0.5">0</text>
<text transform="translate(1163.80,1449.40) scale(1.0000,1)" font-size="33.80" fill="#000" stroke="#fff" stroke-width="0.5">200</text>
<text transform="translate(1277.04,1449.40) scale(1.0000,1)" font-size="33.80" fill="#000" stroke="#fff" stroke-width="0.5">400</text>
<text transform="translate(1389.56,1449.40) scale(1.0000,1)" font-size="33.80" fill="#000" stroke="#fff" stroke-width="0.5">600</text>
<text transform="translate(1502.55,1449.40) scale(1.0000,1)" font-size="33.80" fill="#000" stroke="#fff" stroke-width="0.5">800</text>
<text transform="translate(1605.56,1449.40) scale(1.0000,1)" font-size="33.80" fill="#000" stroke="#fff" stroke-width="0.5">1000</text>
<text transform="translate(1718.46,1449.40) scale(1.0000,1)" font-size="33.80" fill="#000" stroke="#fff" stroke-width="0.5">1200</text>
<path d="M1080.30,1358.00 L1135.15,1358.00 L1135.15,1337.67 L1136.35,1337.67 L1136.35,1282.70 L1192.20,1282.70 L1192.20,1203.00 L1248.65,1203.00 L1248.65,1141.40 L1305.10,1141.40 L1305.10,1072.30 L1361.55,1072.30 L1361.55,1005.20 L1418.00,1005.20 L1418.00,880.40 L1474.45,880.40 L1474.45,1005.20 L1530.90,1005.20 L1530.90,1072.30 L1586.75,1072.30 L1586.75,1118.60 L1587.95,1118.60 L1587.95,1141.40 L1643.20,1141.40 L1643.20,1167.27 L1644.40,1167.27 L1644.40,1203.00 L1700.25,1203.00 L1700.25,1282.70 L1756.70,1282.70 L1756.70,1358.00 L1812.10,1358.00" fill="none" stroke="#000" stroke-width="5.4" stroke-linejoin="miter" stroke-linecap="butt"/>
<text transform="translate(1413.04,863.20) scale(0.9897,1)" font-size="32.00" fill="#000" stroke="#fff" stroke-width="0.5">pH 3</text>
<text transform="translate(1342.26,979.50) scale(0.9831,1)" font-size="32.00" fill="#000" stroke="#fff" stroke-width="0.5">pH 5</text>
<text transform="translate(1284.44,1054.80) scale(0.9882,1)" font-size="32.00" fill="#000" stroke="#fff" stroke-width="0.5">pH 6</text>
<text transform="translate(1229.86,1123.30) scale(0.9827,1)" font-size="32.00" fill="#000" stroke="#fff" stroke-width="0.5">pH 7</text>
<text transform="translate(1174.58,1185.50) scale(0.9722,1)" font-size="32.00" fill="#000" stroke="#fff" stroke-width="0.5">pH 8</text>
<text transform="translate(1115.84,1259.80) scale(0.9882,1)" font-size="32.00" fill="#000" stroke="#fff" stroke-width="0.5">pH 9</text>
<text transform="translate(1080.37,1391.90) scale(0.9921,1)" font-size="31.50" fill="#000" stroke="#fff" stroke-width="0.5">pH 10</text>
<text transform="translate(1116.45,856.20) scale(1.1486,1)" font-size="29.30" fill="#000" style="font-weight:normal" stroke="#000" stroke-width="1.1">(c)</text>
<line x1="1597.00" y1="842.80" x2="1669.00" y2="842.80" stroke="#000" stroke-width="5.8" stroke-linecap="butt"/>
<text transform="translate(1675.07,852.30) scale(1.0189,1)" font-size="31.00" fill="#000" stroke="#fff" stroke-width="0.5">PANI/G 3</text>
<text transform="translate(1388.12,1503.50) scale(0.9843,1)" font-size="31.00" fill="#000" stroke="#fff" stroke-width="0.5">Time (s)</text>
<text transform="translate(970.20,1180.05) rotate(-90) scale(0.9352,1)" font-size="32.50" fill="#000" stroke="#fff" stroke-width="0.5">EMF (V)</text>
<line x1="1332.60" y1="1359.90" x2="1335.80" y2="1359.90" stroke="#1a1a1a" stroke-width="2.0" stroke-linecap="butt"/>
<line x1="1334.40" y1="1348.80" x2="1335.80" y2="1348.80" stroke="#1a1a1a" stroke-width="1.4" stroke-linecap="butt"/>
<line x1="1332.60" y1="1337.70" x2="1335.80" y2="1337.70" stroke="#1a1a1a" stroke-width="2.0" stroke-linecap="butt"/>
<line x1="1334.40" y1="1326.60" x2="1335.80" y2="1326.60" stroke="#1a1a1a" stroke-width="1.4" stroke-linecap="butt"/>
<line x1="1332.60" y1="1315.50" x2="1335.80" y2="1315.50" stroke="#1a1a1a" stroke-width="2.0" stroke-linecap="butt"/>
<line x1="1334.40" y1="1304.40" x2="1335.80" y2="1304.40" stroke="#1a1a1a" stroke-width="1.4" stroke-linecap="butt"/>
<line x1="1332.60" y1="1293.30" x2="1335.80" y2="1293.30" stroke="#1a1a1a" stroke-width="2.0" stroke-linecap="butt"/>
<line x1="1334.40" y1="1282.20" x2="1335.80" y2="1282.20" stroke="#1a1a1a" stroke-width="1.4" stroke-linecap="butt"/>
<line x1="1332.60" y1="1271.10" x2="1335.80" y2="1271.10" stroke="#1a1a1a" stroke-width="2.0" stroke-linecap="butt"/>
<line x1="1334.40" y1="1260.00" x2="1335.80" y2="1260.00" stroke="#1a1a1a" stroke-width="1.4" stroke-linecap="butt"/>
<line x1="1332.60" y1="1248.90" x2="1335.80" y2="1248.90" stroke="#1a1a1a" stroke-width="2.0" stroke-linecap="butt"/>
<line x1="1334.40" y1="1237.80" x2="1335.80" y2="1237.80" stroke="#1a1a1a" stroke-width="1.4" stroke-linecap="butt"/>
<line x1="1332.60" y1="1226.70" x2="1335.80" y2="1226.70" stroke="#1a1a1a" stroke-width="2.0" stroke-linecap="butt"/>
<line x1="1334.40" y1="1215.60" x2="1335.80" y2="1215.60" stroke="#1a1a1a" stroke-width="1.4" stroke-linecap="butt"/>
<line x1="1332.60" y1="1204.50" x2="1335.80" y2="1204.50" stroke="#1a1a1a" stroke-width="2.0" stroke-linecap="butt"/>
<line x1="1334.40" y1="1193.40" x2="1335.80" y2="1193.40" stroke="#1a1a1a" stroke-width="1.4" stroke-linecap="butt"/>
<line x1="1332.60" y1="1182.30" x2="1335.80" y2="1182.30" stroke="#1a1a1a" stroke-width="2.0" stroke-linecap="butt"/>
<line x1="1334.40" y1="1171.20" x2="1335.80" y2="1171.20" stroke="#1a1a1a" stroke-width="1.4" stroke-linecap="butt"/>
<line x1="1332.60" y1="1160.10" x2="1335.80" y2="1160.10" stroke="#1a1a1a" stroke-width="2.0" stroke-linecap="butt"/>
<line x1="1336.00" y1="1360.10" x2="1336.00" y2="1362.70" stroke="#1a1a1a" stroke-width="2.0" stroke-linecap="butt"/>
<line x1="1367.10" y1="1360.10" x2="1367.10" y2="1362.70" stroke="#1a1a1a" stroke-width="2.0" stroke-linecap="butt"/>
<line x1="1398.20" y1="1360.10" x2="1398.20" y2="1362.70" stroke="#1a1a1a" stroke-width="2.0" stroke-linecap="butt"/>
<line x1="1429.30" y1="1360.10" x2="1429.30" y2="1362.70" stroke="#1a1a1a" stroke-width="2.0" stroke-linecap="butt"/>
<line x1="1460.40" y1="1360.10" x2="1460.40" y2="1362.70" stroke="#1a1a1a" stroke-width="2.0" stroke-linecap="butt"/>
<line x1="1491.50" y1="1360.10" x2="1491.50" y2="1362.70" stroke="#1a1a1a" stroke-width="2.0" stroke-linecap="butt"/>
<line x1="1522.60" y1="1360.10" x2="1522.60" y2="1362.70" stroke="#1a1a1a" stroke-width="2.0" stroke-linecap="butt"/>
<line x1="1553.70" y1="1360.10" x2="1553.70" y2="1362.70" stroke="#1a1a1a" stroke-width="2.0" stroke-linecap="butt"/>
<line x1="1584.80" y1="1360.10" x2="1584.80" y2="1362.70" stroke="#1a1a1a" stroke-width="2.0" stroke-linecap="butt"/>
<rect x="1335.80" y="1160.20" width="248.80" height="199.90" fill="none" stroke="#1a1a1a" stroke-width="2.6"/>
<text transform="translate(1291.91,1364.90) scale(1.1600,1)" font-size="14.60" fill="#1a1a1a">-0.20</text>
<text transform="translate(1291.69,1342.70) scale(1.1600,1)" font-size="14.60" fill="#1a1a1a">-0.15</text>
<text transform="translate(1291.91,1320.50) scale(1.1600,1)" font-size="14.60" fill="#1a1a1a">-0.10</text>
<text transform="translate(1291.69,1298.30) scale(1.1600,1)" font-size="14.60" fill="#1a1a1a">-0.05</text>
<text transform="translate(1297.54,1276.10) scale(1.1600,1)" font-size="14.60" fill="#1a1a1a">0.00</text>
<text transform="translate(1297.33,1253.90) scale(1.1600,1)" font-size="14.60" fill="#1a1a1a">0.05</text>
<text transform="translate(1297.54,1231.70) scale(1.1600,1)" font-size="14.60" fill="#1a1a1a">0.10</text>
<text transform="translate(1297.33,1209.50) scale(1.1600,1)" font-size="14.60" fill="#1a1a1a">0.15</text>
<text transform="translate(1297.54,1187.30) scale(1.1600,1)" font-size="14.60" fill="#1a1a1a">0.20</text>
<text transform="translate(1297.33,1165.10) scale(1.1600,1)" font-size="14.60" fill="#1a1a1a">0.25</text>
<text transform="translate(1364.38,1379.50) scale(0.9000,1)" font-size="11.00" fill="#3a3a3a" style="font-weight:normal" stroke="#3a3a3a" stroke-width="0.6">3</text>
<text transform="translate(1395.48,1379.50) scale(0.9000,1)" font-size="11.00" fill="#3a3a3a" style="font-weight:normal" stroke="#3a3a3a" stroke-width="0.6">4</text>
<text transform="translate(1426.55,1379.50) scale(0.9000,1)" font-size="11.00" fill="#3a3a3a" style="font-weight:normal" stroke="#3a3a3a" stroke-width="0.6">5</text>
<text transform="translate(1457.62,1379.50) scale(0.9000,1)" font-size="11.00" fill="#3a3a3a" style="font-weight:normal" stroke="#3a3a3a" stroke-width="0.6">6</text>
<text transform="translate(1488.74,1379.50) scale(0.9000,1)" font-size="11.00" fill="#3a3a3a" style="font-weight:normal" stroke="#3a3a3a" stroke-width="0.6">7</text>
<text transform="translate(1519.85,1379.50) scale(0.9000,1)" font-size="11.00" fill="#3a3a3a" style="font-weight:normal" stroke="#3a3a3a" stroke-width="0.6">8</text>
<text transform="translate(1550.94,1379.50) scale(0.9000,1)" font-size="11.00" fill="#3a3a3a" style="font-weight:normal" stroke="#3a3a3a" stroke-width="0.6">9</text>
<text transform="translate(1579.12,1379.50) scale(0.9000,1)" font-size="11.00" fill="#3a3a3a" style="font-weight:normal" stroke="#3a3a3a" stroke-width="0.6">10</text>
<text transform="translate(1452.89,1396.00) scale(1.0824,1)" font-size="13.00" fill="#3a3a3a" style="font-weight:normal" stroke="#3a3a3a" stroke-width="0.6">pH</text>
<text transform="translate(1293.20,1285.92) rotate(-90) scale(1.0709,1)" font-size="15.50" fill="#1a1a1a">EMF (V)</text>
<text transform="translate(1341.30,1176.40) scale(1.0040,1)" font-size="14.90" fill="#1a1a1a">Calibration curve of PANI/G 3</text>
<text transform="translate(1441.90,1289.50) scale(1.0002,1)" font-size="16.30" fill="#1a1a1a">R^2=0.97017</text>
<line x1="1336.80" y1="1358.20" x2="1554.00" y2="1182.00" stroke="#000" stroke-width="2.4" stroke-linecap="butt"/>
</g>
</svg>
</body></html>
